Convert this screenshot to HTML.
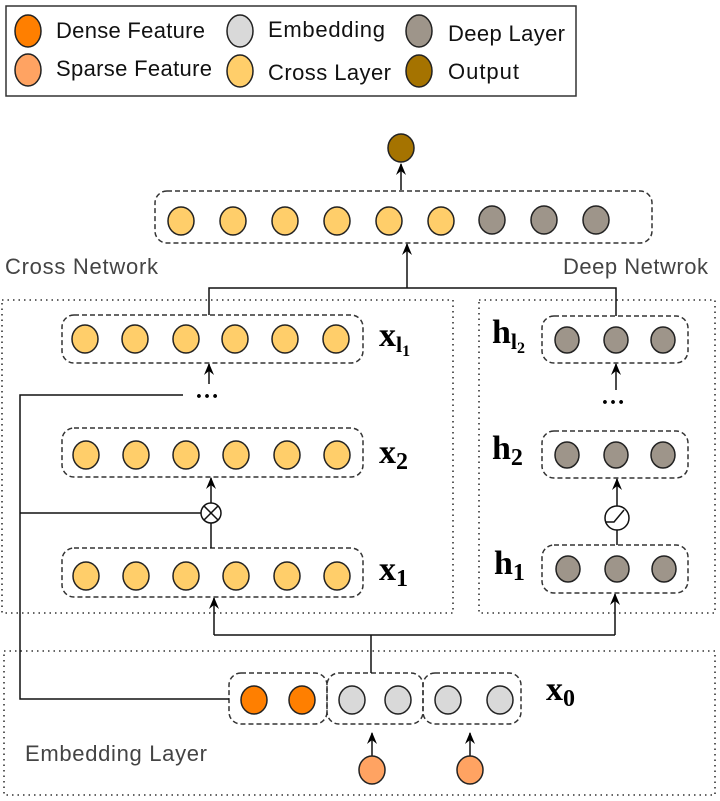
<!DOCTYPE html>
<html><head><meta charset="utf-8"><style>body{margin:0;background:#fff}svg{display:block}</style></head><body>
<svg width="720" height="801" viewBox="0 0 720 801" xmlns="http://www.w3.org/2000/svg" font-family="Liberation Sans, sans-serif">
<defs><marker id="a" markerWidth="12" markerHeight="10" refX="11" refY="5" orient="auto" markerUnits="userSpaceOnUse" viewBox="0 0 12 10"><path d="M0,0 L12,5 L0,10 L4,5 Z" fill="#000"/></marker></defs>
<g stroke="#222" stroke-width="1.5">
<rect x="6" y="6" width="570" height="90" fill="#fff" stroke="#333" stroke-width="1.5"/>
<ellipse cx="28" cy="31" rx="13" ry="16" fill="#ff7f00"/>
<ellipse cx="28" cy="70" rx="13" ry="16" fill="#ffa362"/>
<ellipse cx="240" cy="31" rx="13" ry="16" fill="#d9d9d9"/>
<ellipse cx="240" cy="71" rx="13" ry="16" fill="#ffce6a"/>
<ellipse cx="419" cy="31" rx="13" ry="16" fill="#9e958a"/>
<ellipse cx="419" cy="71" rx="13" ry="16" fill="#a57300"/>
</g>
<g font-size="22" fill="#111">
<text x="56" y="38" textLength="149">Dense Feature</text>
<text x="56" y="76" textLength="156">Sparse Feature</text>
<text x="268" y="37" textLength="117">Embedding</text>
<text x="268" y="80" textLength="123">Cross Layer</text>
<text x="448" y="41" textLength="117">Deep Layer</text>
<text x="448" y="79" textLength="71">Output</text>
</g>
<g font-size="22" fill="#444">
<text x="5" y="274" textLength="153">Cross Network</text>
<text x="563" y="274" textLength="145">Deep Netwrok</text>
<text x="25" y="761" textLength="182">Embedding Layer</text>
</g>
<g fill="none" stroke="#333" stroke-width="1.6" stroke-dasharray="1.5,4">
<rect x="2" y="300" width="451" height="313"/>
<rect x="479" y="300" width="236" height="313"/>
<rect x="4" y="651" width="711" height="144"/>
</g>
<g fill="none" stroke="#333" stroke-width="1.5" stroke-dasharray="5,3">
<rect x="155" y="191" width="497" height="52" rx="12"/>
<rect x="62" y="315" width="301" height="48" rx="12"/>
<rect x="62" y="428" width="301" height="49" rx="12"/>
<rect x="62" y="548" width="301" height="49" rx="12"/>
<rect x="542" y="316" width="146" height="47" rx="12"/>
<rect x="542" y="431" width="146" height="47" rx="12"/>
<rect x="542" y="545" width="146" height="48" rx="12"/>
<rect x="229" y="673" width="98" height="51" rx="12"/>
<rect x="327" y="673" width="96" height="51" rx="12"/>
<rect x="423" y="673" width="98" height="51" rx="12"/>
</g>
<g stroke="#111" stroke-width="1.5" fill="none">
<line x1="401" y1="190" x2="401" y2="164" marker-end="url(#a)"/>
<line x1="407" y1="288" x2="407" y2="244" marker-end="url(#a)"/>
<polyline points="209,315 209,288 616,288 616,316"/>
<line x1="209" y1="384" x2="209" y2="364" marker-end="url(#a)"/>
<polyline points="183,395 20,395 20,699 229,699"/>
<line x1="20" y1="513" x2="201" y2="513"/>
<line x1="211" y1="548" x2="211" y2="523"/>
<line x1="211" y1="503" x2="211" y2="478" marker-end="url(#a)"/>
<line x1="616" y1="390" x2="616" y2="364" marker-end="url(#a)"/>
<line x1="617" y1="545" x2="617" y2="530"/>
<line x1="617" y1="506" x2="617" y2="479" marker-end="url(#a)"/>
<line x1="214" y1="635" x2="214" y2="598" marker-end="url(#a)"/>
<line x1="615" y1="635" x2="615" y2="594" marker-end="url(#a)"/>
<line x1="214" y1="635" x2="615" y2="635"/>
<line x1="371" y1="635" x2="371" y2="673"/>
<line x1="372" y1="757" x2="372" y2="733" marker-end="url(#a)"/>
<line x1="470" y1="757" x2="470" y2="733" marker-end="url(#a)"/>
<circle cx="211" cy="513" r="10" fill="#fff"/>
<line x1="204" y1="506" x2="218" y2="520"/><line x1="218" y1="506" x2="204" y2="520"/>
<circle cx="617" cy="518" r="12" fill="#fff"/>
<polyline points="606,522 614,522 624,510"/>
</g>
<g font-size="24" font-weight="bold" fill="#000" font-family="Liberation Serif, serif">
<text x="195" y="398">…</text>
<text x="601" y="404">…</text>
</g>
<g stroke="#222" stroke-width="1.5">
<ellipse cx="401" cy="148" rx="13" ry="14" fill="#a57300"/>
<g fill="#ffce6a">
<ellipse cx="181" cy="221" rx="13" ry="14"/><ellipse cx="233" cy="221" rx="13" ry="14"/><ellipse cx="285" cy="221" rx="13" ry="14"/><ellipse cx="337" cy="221" rx="13" ry="14"/><ellipse cx="389" cy="221" rx="13" ry="14"/><ellipse cx="441" cy="221" rx="13" ry="14"/>
<ellipse cx="85" cy="339" rx="13" ry="14"/><ellipse cx="135" cy="339" rx="13" ry="14"/><ellipse cx="186" cy="339" rx="13" ry="14"/><ellipse cx="235" cy="339" rx="13" ry="14"/><ellipse cx="285" cy="339" rx="13" ry="14"/><ellipse cx="336" cy="339" rx="13" ry="14"/>
<ellipse cx="86" cy="455" rx="13" ry="14"/><ellipse cx="136" cy="455" rx="13" ry="14"/><ellipse cx="186" cy="455" rx="13" ry="14"/><ellipse cx="236" cy="455" rx="13" ry="14"/><ellipse cx="287" cy="455" rx="13" ry="14"/><ellipse cx="337" cy="455" rx="13" ry="14"/>
<ellipse cx="86" cy="576" rx="13" ry="14"/><ellipse cx="136" cy="576" rx="13" ry="14"/><ellipse cx="186" cy="576" rx="13" ry="14"/><ellipse cx="236" cy="576" rx="13" ry="14"/><ellipse cx="287" cy="576" rx="13" ry="14"/><ellipse cx="337" cy="576" rx="13" ry="14"/>
</g>
<g fill="#9e958a">
<ellipse cx="492" cy="220" rx="13" ry="14"/><ellipse cx="544" cy="220" rx="13" ry="14"/><ellipse cx="596" cy="220" rx="13" ry="14"/>
<ellipse cx="567" cy="340" rx="12" ry="13"/><ellipse cx="616" cy="340" rx="12" ry="13"/><ellipse cx="663" cy="340" rx="12" ry="13"/>
<ellipse cx="567" cy="455" rx="12" ry="13"/><ellipse cx="616" cy="455" rx="12" ry="13"/><ellipse cx="663" cy="455" rx="12" ry="13"/>
<ellipse cx="568" cy="569" rx="12" ry="13"/><ellipse cx="617" cy="569" rx="12" ry="13"/><ellipse cx="664" cy="569" rx="12" ry="13"/>
</g>
<g fill="#ff7f00"><ellipse cx="254" cy="700" rx="13" ry="14"/><ellipse cx="302" cy="700" rx="13" ry="14"/></g>
<g fill="#d9d9d9"><ellipse cx="352" cy="700" rx="13" ry="14"/><ellipse cx="398" cy="700" rx="13" ry="14"/><ellipse cx="448" cy="700" rx="13" ry="14"/><ellipse cx="500" cy="700" rx="13" ry="14"/></g>
<g fill="#ffa362"><ellipse cx="372" cy="770" rx="13" ry="14"/><ellipse cx="470" cy="770" rx="13" ry="14"/></g>
</g>
<g font-family="Liberation Serif, serif" font-weight="bold" fill="#000">
<text x="379" y="346" font-size="34">x<tspan font-size="22" dy="6">l</tspan><tspan font-size="16" dy="4">1</tspan></text>
<text x="379" y="463" font-size="34">x<tspan font-size="24" dy="6">2</tspan></text>
<text x="379" y="580" font-size="34">x<tspan font-size="24" dy="6">1</tspan></text>
<text x="492" y="343" font-size="34">h<tspan font-size="22" dy="6">l</tspan><tspan font-size="16" dy="4">2</tspan></text>
<text x="492" y="459" font-size="34">h<tspan font-size="24" dy="6">2</tspan></text>
<text x="494" y="574" font-size="34">h<tspan font-size="24" dy="6">1</tspan></text>
<text x="546" y="700" font-size="34">x<tspan font-size="24" dy="6">0</tspan></text>
</g>
</svg>
</body></html>
